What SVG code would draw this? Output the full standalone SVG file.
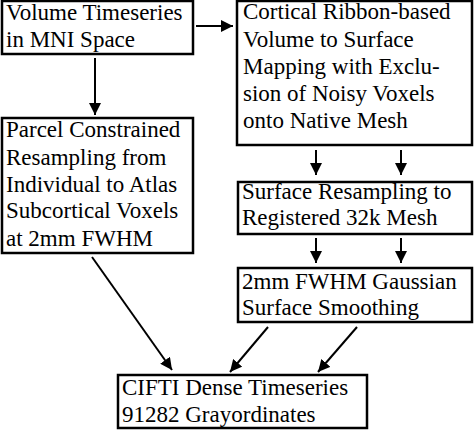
<svg xmlns="http://www.w3.org/2000/svg" width="474" height="430" viewBox="0 0 474 430">
<style>
.box{fill:#fff;stroke:#000;stroke-width:2.5}
.t{font-family:"Liberation Serif","DejaVu Serif",serif;font-size:23px;fill:#000}
.c{stroke:#000;stroke-width:2;fill:none;marker-end:url(#ah)}
</style>
<defs>
<marker id="ah" viewBox="0 0 10 10" refX="10" refY="5" markerWidth="6" markerHeight="6" orient="auto" markerUnits="strokeWidth">
<path d="M0,0 L10,5 L0,10 z" fill="#000"/>
</marker>
</defs>
<rect width="474" height="430" fill="#fff"/>
<g id="connectors">
<line class="c" x1="196" y1="26" x2="233" y2="26"/>
<line class="c" x1="95" y1="58" x2="95" y2="115"/>
<line class="c" x1="316" y1="150" x2="316" y2="175"/>
<line class="c" x1="401" y1="150" x2="401" y2="175"/>
<line class="c" x1="316" y1="238" x2="316" y2="263"/>
<line class="c" x1="401" y1="238" x2="401" y2="263"/>
<line class="c" x1="92" y1="257" x2="172" y2="370"/>
<line class="c" x1="268" y1="327" x2="230" y2="372"/>
<line class="c" x1="357" y1="327" x2="318" y2="372"/>
</g>
<g id="n1">
<rect class="box" x="2" y="1" width="191" height="53"/>
<text class="t"><tspan x="6" y="20">Volume Timeseries</tspan><tspan x="6" y="47">in MNI Space</tspan></text>
</g>
<g id="n2">
<rect class="box" x="237" y="1" width="235" height="144"/>
<text class="t"><tspan x="243" y="19">Cortical Ribbon-based</tspan><tspan x="243" y="47">Volume to Surface</tspan><tspan x="243" y="74">Mapping with Exclu-</tspan><tspan x="243" y="101">sion of Noisy Voxels</tspan><tspan x="243" y="128">onto Native Mesh</tspan></text>
</g>
<g id="n3">
<rect class="box" x="2" y="118" width="191" height="135"/>
<text class="t"><tspan x="6" y="137">Parcel Constrained</tspan><tspan x="6" y="165">Resampling from</tspan><tspan x="6" y="192">Individual to Atlas</tspan><tspan x="6" y="218">Subcortical Voxels</tspan><tspan x="6" y="246">at 2mm FWHM</tspan></text>
</g>
<g id="n4">
<rect class="box" x="238" y="182" width="234" height="52"/>
<text class="t"><tspan x="242" y="199">Surface Resampling to</tspan><tspan x="242" y="225">Registered 32k Mesh</tspan></text>
</g>
<g id="n5">
<rect class="box" x="238" y="268" width="234" height="54"/>
<text class="t"><tspan x="242" y="289">2mm FWHM Gaussian</tspan><tspan x="242" y="315">Surface Smoothing</tspan></text>
</g>
<g id="n6">
<rect class="box" x="118" y="375" width="249" height="53"/>
<text class="t"><tspan x="122" y="395">CIFTI Dense Timeseries</tspan><tspan x="122" y="422">91282 Grayordinates</tspan></text>
</g>
</svg>
